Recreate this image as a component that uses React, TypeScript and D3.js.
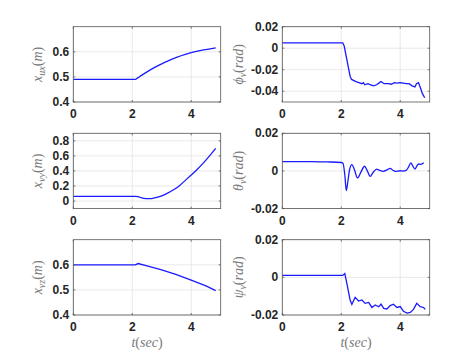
import React from "react";
import * as d3 from "d3";

const t1 = [0, 2.1, 2.2, 2.3, 2.5, 2.7, 3.0, 3.2, 3.5, 3.8, 4.0, 4.3, 4.6, 4.83];
const xux = [0.49, 0.49, 0.497, 0.505, 0.52, 0.534, 0.552, 0.563, 0.578, 0.59, 0.597, 0.605, 0.611, 0.616];

const t2 = [0, 2.05, 2.1, 2.2, 2.3, 2.35, 2.5, 2.6, 2.7, 2.75, 2.8, 2.9, 3.0, 3.1, 3.2, 3.3, 3.35, 3.45, 3.6, 3.7, 3.8, 3.9, 4.0, 4.1, 4.2, 4.3, 4.4, 4.5, 4.55, 4.62, 4.7, 4.75, 4.83];
const phi = [0.005, 0.005, 0.002, -0.012, -0.026, -0.029, -0.031, -0.032, -0.033, -0.032, -0.034, -0.033, -0.034, -0.035, -0.034, -0.032, -0.031, -0.033, -0.033, -0.0335, -0.032, -0.0325, -0.032, -0.0325, -0.033, -0.033, -0.035, -0.036, -0.033, -0.032, -0.038, -0.042, -0.046];

const t3 = [0, 2.1, 2.2, 2.3, 2.4, 2.5, 2.6, 2.7, 2.8, 3.0, 3.2, 3.4, 3.6, 3.8, 4.0, 4.2, 4.4, 4.6, 4.83];
const xvy = [0.062, 0.062, 0.058, 0.045, 0.036, 0.032, 0.033, 0.037, 0.045, 0.07, 0.105, 0.15, 0.205, 0.275, 0.347, 0.42, 0.5, 0.59, 0.7];

const t4 = [0, 1.0, 1.5, 2.0, 2.06, 2.12, 2.17, 2.22, 2.28, 2.36, 2.45, 2.55, 2.67, 2.79, 2.88, 2.98, 3.08, 3.2, 3.3, 3.43, 3.55, 3.66, 3.75, 3.83, 4.0, 4.1, 4.2, 4.28, 4.36, 4.43, 4.5, 4.56, 4.62, 4.7, 4.8];
const theta = [0.005, 0.005, 0.0048, 0.0045, 0.004, -0.002, -0.0104, -0.006, 0.0005, 0.0034, 0.0005, -0.0037, -0.0005, 0.0025, 0.0002, -0.0029, -0.0008, 0.001, 0.0003, -0.0002, 0.0006, 0.0014, 0.0004, -0.0002, 0.0001, -0.0001, 0.0003, 0.002, 0.0043, 0.0025, 0.001, 0.0025, 0.0037, 0.0035, 0.0043];

const t5 = [0, 2.1, 2.2, 2.5, 3.0, 3.5, 4.0, 4.5, 4.83];
const xvz = [0.6, 0.6, 0.605, 0.596, 0.58, 0.561, 0.539, 0.516, 0.497];

const t6 = [0, 2.05, 2.12, 2.2, 2.3, 2.36, 2.47, 2.59, 2.7, 2.81, 2.93, 3.04, 3.15, 3.27, 3.35, 3.44, 3.55, 3.66, 3.77, 3.89, 4.0, 4.11, 4.23, 4.34, 4.45, 4.56, 4.68, 4.79, 4.85];
const psi = [0.001, 0.001, 0.002, -0.004, -0.012, -0.0143, -0.0106, -0.0126, -0.012, -0.0138, -0.0133, -0.016, -0.0147, -0.0156, -0.0142, -0.0165, -0.0168, -0.015, -0.0143, -0.016, -0.0155, -0.018, -0.019, -0.0186, -0.017, -0.0138, -0.0156, -0.016, -0.017];

const xTicks = [0, 2, 4];

type Panel = {
  t: number[];
  v: number[];
  dom: [number, number];
  ticks: number[];
  label: React.ReactNode;
  col: number;
  row: number;
  smooth: boolean;
};

const fmt = (d: number) => (d === 0 ? "0" : String(d));

const sub = (main: string, s: string, unit: string) => (
  <>
    <tspan fontStyle="italic">{main}</tspan>
    <tspan fontStyle="italic" fontSize="10" dy="3">{s}</tspan>
    <tspan dy="-3">(</tspan>
    <tspan fontStyle="italic">{unit}</tspan>
    <tspan>)</tspan>
  </>
);

const panels: Panel[] = [
  { t: t1, v: xux, dom: [0.4, 0.7], ticks: [0.4, 0.5, 0.6], label: sub("x", "ux", "m"), col: 0, row: 0, smooth: true },
  { t: t2, v: phi, dom: [-0.05, 0.02], ticks: [-0.04, -0.02, 0, 0.02], label: sub("ϕ", "v", "rad"), col: 1, row: 0, smooth: false },
  { t: t3, v: xvy, dom: [-0.1, 0.9], ticks: [0, 0.2, 0.4, 0.6, 0.8], label: sub("x", "vy", "m"), col: 0, row: 1, smooth: true },
  { t: t4, v: theta, dom: [-0.02, 0.02], ticks: [-0.02, 0, 0.02], label: sub("θ", "v", "rad"), col: 1, row: 1, smooth: true },
  { t: t5, v: xvz, dom: [0.4, 0.7], ticks: [0.4, 0.5, 0.6], label: sub("x", "vz", "m"), col: 0, row: 2, smooth: false },
  { t: t6, v: psi, dom: [-0.02, 0.02], ticks: [-0.02, 0, 0.02], label: sub("ψ", "v", "rad"), col: 1, row: 2, smooth: false },
];

const colLeft = [73.3, 282.3];
const axW = 147.4;
const rowTop = [26.7, 133.3, 239.7];
const axH = 75.3;
const serif = "Liberation Serif, DejaVu Serif, serif";
const sans = "Liberation Sans, Arial, sans-serif";

function PanelView({ p }: { p: Panel }) {
  const x0 = colLeft[p.col];
  const y0 = rowTop[p.row];
  const xs = d3.scaleLinear().domain([0, 5]).range([x0, x0 + axW]);
  const ys = d3.scaleLinear().domain(p.dom).range([y0 + axH, y0]);
  const line = d3
    .line<number>()
    .x((_, i) => xs(p.t[i]))
    .y((d) => ys(d))
    .curve(p.smooth ? d3.curveMonotoneX : d3.curveLinear);
  const labelX = p.col === 0 ? 42 : 243;
  return (
    <g>
      <rect x={x0} y={y0} width={axW} height={axH} fill="#fff" />
      {xTicks.map((tk) => (
        <line key={"gx" + tk} x1={xs(tk)} x2={xs(tk)} y1={y0} y2={y0 + axH} stroke="#e3e3e3" strokeWidth={0.8} />
      ))}
      {p.ticks.map((tk) => (
        <line key={"gy" + tk} x1={x0} x2={x0 + axW} y1={ys(tk)} y2={ys(tk)} stroke="#e3e3e3" strokeWidth={0.8} />
      ))}
      <path d={line(p.v) || ""} fill="none" stroke="#1a1aff" strokeWidth={1.3} />
      <rect x={x0} y={y0} width={axW} height={axH} fill="none" stroke="#555" strokeWidth={0.8} />
      {xTicks.map((tk) => (
        <g key={"tx" + tk}>
          <line x1={xs(tk)} x2={xs(tk)} y1={y0 + axH} y2={y0 + axH - 2} stroke="#555" strokeWidth={0.8} />
          <line x1={xs(tk)} x2={xs(tk)} y1={y0} y2={y0 + 2} stroke="#555" strokeWidth={0.8} />
          <text x={xs(tk)} y={y0 + axH + 16} textAnchor="middle" fontSize="12" fontWeight="bold" fill="#262626" fontFamily={sans}>
            {tk}
          </text>
        </g>
      ))}
      {p.ticks.map((tk) => (
        <g key={"ty" + tk}>
          <line x1={x0} x2={x0 + 2} y1={ys(tk)} y2={ys(tk)} stroke="#555" strokeWidth={0.8} />
          <line x1={x0 + axW} x2={x0 + axW - 2} y1={ys(tk)} y2={ys(tk)} stroke="#555" strokeWidth={0.8} />
          <text x={x0 - 4} y={ys(tk) + 4} textAnchor="end" fontSize="12" fontWeight="bold" fill="#262626" fontFamily={sans}>
            {fmt(tk)}
          </text>
        </g>
      ))}
      <text
        transform={`translate(${labelX},${y0 + axH / 2}) rotate(-90)`}
        textAnchor="middle"
        fontSize="14"
        fill="#7a7a7a"
        fontFamily={serif}
      >
        {p.label}
      </text>
      {p.row === 2 && (
        <text x={x0 + axW / 2} y={347} textAnchor="middle" fontSize="14" fill="#7a7a7a" fontFamily={serif}>
          <tspan fontStyle="italic">t</tspan>
          <tspan>(</tspan>
          <tspan fontStyle="italic">sec</tspan>
          <tspan>)</tspan>
        </text>
      )}
    </g>
  );
}

export default function App() {
  return (
    <svg width={474} height={355} style={{ position: "absolute", left: 0, top: 0, background: "#fff" }}>
      <rect width={474} height={355} fill="#fff" />
      {panels.map((p, i) => (
        <PanelView key={i} p={p} />
      ))}
    </svg>
  );
}
